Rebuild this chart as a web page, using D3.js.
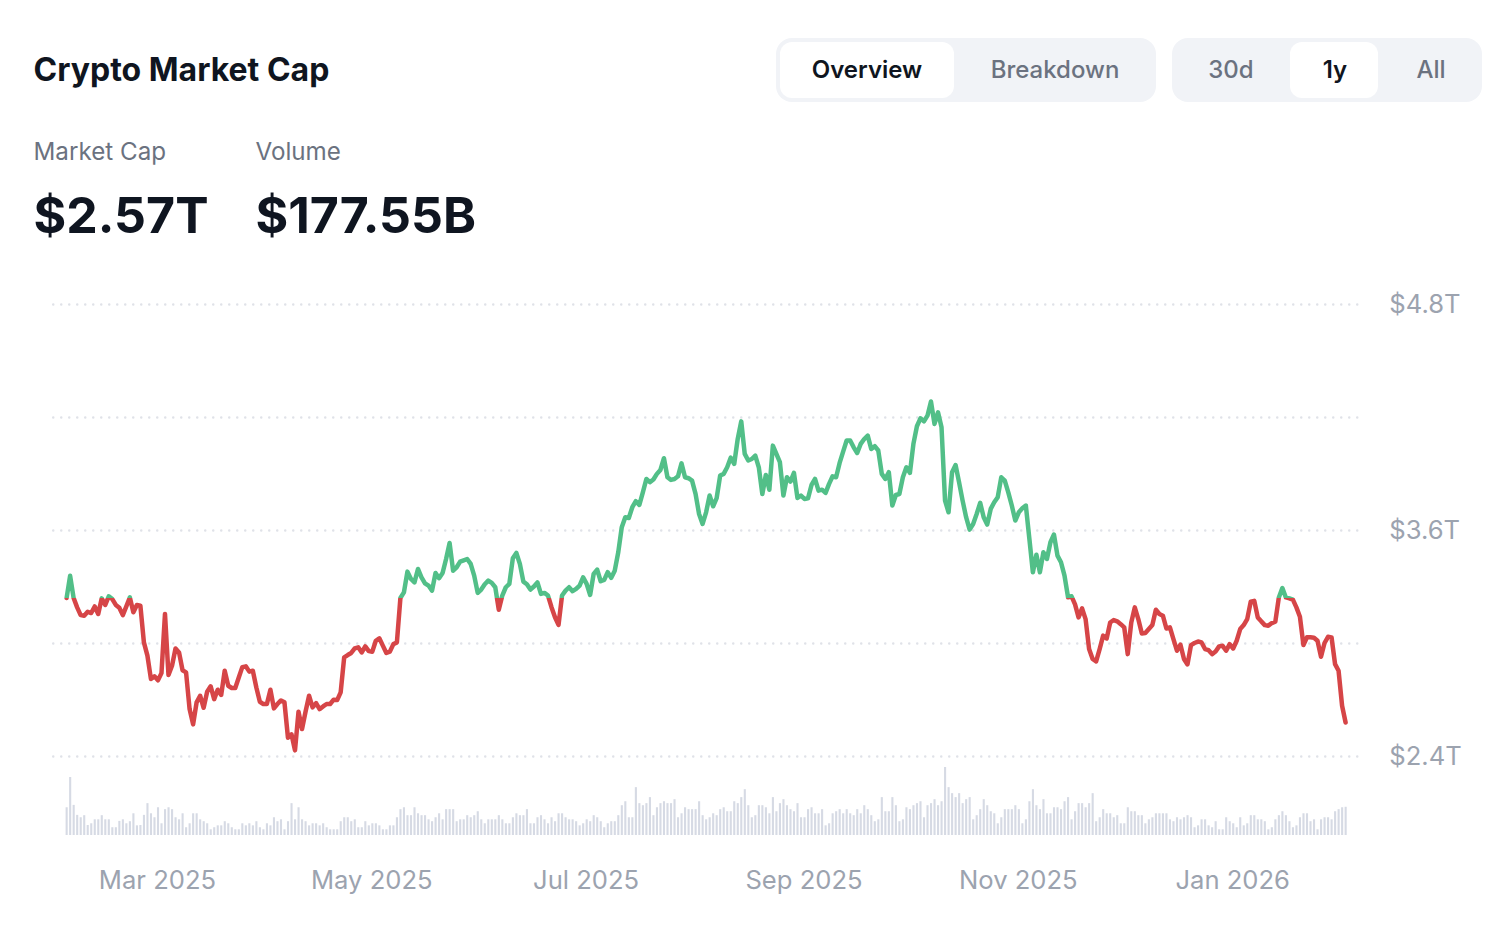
<!DOCTYPE html>
<html>
<head>
<meta charset="utf-8">
<title>Crypto Market Cap</title>
<script src="https://cdn.jsdelivr.net/npm/d3@7"></script>
<style>
  html, body { margin: 0; padding: 0; background: #fff; }
  svg { display: block; font-family: Inter, "Noto Sans", sans-serif; }
</style>
</head>
<body>
<svg id="chart" width="1510" height="930"></svg>
<script>
// daily market cap in $T, first day is 2025-02-03
var capValues = [
  3.239,3.357,3.239,3.189,3.148,3.145,3.166,3.159,3.194,3.154,3.237,3.202,3.248,3.233,3.202,3.187,3.148,3.194,3.242,3.163,
  3.202,3.198,3.003,2.933,2.809,2.823,2.802,2.840,3.154,2.830,2.879,2.971,2.950,2.855,2.844,2.649,2.568,2.685,2.720,2.656,
  2.741,2.770,2.702,2.752,2.724,2.853,2.773,2.761,2.761,2.817,2.872,2.876,2.848,2.853,2.764,2.688,2.676,2.676,2.752,2.653,
  2.676,2.695,2.685,2.497,2.515,2.430,2.635,2.543,2.635,2.720,2.658,2.681,2.649,2.663,2.676,2.676,2.699,2.697,2.738,2.924,
  2.936,2.947,2.971,2.977,2.950,2.982,2.957,2.954,3.012,3.025,2.986,2.947,2.954,2.994,3.003,3.239,3.269,3.379,3.340,3.322,
  3.393,3.349,3.317,3.305,3.278,3.372,3.344,3.372,3.446,3.531,3.384,3.402,3.432,3.439,3.446,3.420,3.358,3.266,3.284,3.312,
  3.331,3.319,3.296,3.177,3.252,3.296,3.314,3.450,3.478,3.420,3.326,3.312,3.284,3.300,3.322,3.261,3.266,3.252,3.190,3.137,
  3.096,3.252,3.278,3.296,3.275,3.287,3.305,3.349,3.314,3.255,3.367,3.390,3.328,3.335,3.376,3.346,3.384,3.482,3.615,3.668,
  3.664,3.721,3.753,3.733,3.800,3.871,3.854,3.868,3.898,3.919,3.981,3.880,3.866,3.871,3.885,3.954,3.880,3.875,3.862,3.792,
  3.685,3.632,3.694,3.783,3.726,3.769,3.889,3.898,3.933,3.984,3.951,4.084,4.177,4.004,3.969,3.977,3.995,3.933,3.791,3.892,
  3.814,4.048,4.004,3.960,3.783,3.880,3.857,3.903,3.770,3.783,3.765,3.768,3.839,3.871,3.809,3.814,3.797,3.845,3.885,3.880,
  3.956,4.016,4.075,4.075,4.039,4.009,4.057,4.083,4.101,4.030,4.045,4.022,3.898,3.871,3.907,3.730,3.786,3.791,3.880,3.933,
  3.903,4.057,4.151,4.193,4.177,4.207,4.282,4.163,4.225,4.145,3.756,3.694,3.907,3.945,3.853,3.756,3.668,3.602,3.632,3.685,
  3.744,3.668,3.629,3.712,3.747,3.774,3.880,3.862,3.800,3.730,3.650,3.694,3.715,3.730,3.553,3.376,3.469,3.376,3.482,3.446,
  3.535,3.576,3.464,3.429,3.358,3.243,3.248,3.205,3.136,3.184,3.127,2.968,2.915,2.902,2.968,3.039,3.024,3.109,3.122,3.115,
  3.100,3.083,2.941,3.109,3.189,3.127,3.051,3.053,3.074,3.095,3.177,3.154,3.145,3.077,3.083,3.021,2.959,2.991,2.915,2.886,
  2.989,3.000,3.008,3.003,2.968,2.962,2.941,2.955,2.982,2.985,2.959,2.994,2.971,3.012,3.074,3.095,3.127,3.219,3.224,3.136,
  3.115,3.095,3.092,3.106,3.113,3.242,3.292,3.242,3.237,3.230,3.189,3.139,2.989,3.030,3.030,3.028,3.012,2.927,3.000,3.033,
  3.030,2.888,2.853,2.667,2.578
];

// daily volume in $B, same days
var volumeValues = [
  175,366,190,127,112,125,63,74,99,99,125,99,99,49,49,89,99,74,87,137,61,63,127,201,137,112,175,74,163,175,
  163,112,99,137,49,74,137,137,99,87,74,36,49,61,61,87,74,49,36,36,74,61,74,61,87,49,36,74,61,112,
  87,99,36,87,201,99,175,99,87,61,74,74,61,74,49,36,36,36,87,112,112,87,99,49,49,87,61,74,74,61,
  36,36,61,61,112,163,175,125,125,175,137,125,125,99,87,112,137,99,163,163,163,87,99,99,125,112,125,150,99,74,
  99,99,99,125,99,74,74,112,137,125,125,163,74,74,112,125,99,74,112,87,137,137,112,99,99,87,61,74,99,87,
  125,112,87,49,74,87,87,125,188,213,112,112,302,201,188,201,239,125,175,201,213,201,201,226,112,137,175,163,163,163,
  213,125,99,112,137,125,163,175,150,150,213,201,239,289,188,112,125,188,188,175,137,239,150,201,226,188,163,150,201,112,
  112,163,175,137,137,163,61,74,137,150,163,137,163,137,125,163,137,188,163,125,87,99,239,150,150,239,188,87,99,175,
  163,188,201,213,112,188,201,226,188,213,429,302,264,239,264,201,226,239,99,125,163,226,188,150,137,74,112,163,163,163,
  188,163,74,99,213,289,188,163,226,137,137,175,175,163,213,239,99,150,201,201,175,201,264,87,112,163,137,137,112,125,
  74,74,175,150,150,125,125,74,99,112,137,137,137,137,99,87,112,99,112,125,112,49,61,99,99,61,49,87,36,36,
  112,87,74,49,112,61,74,125,125,99,99,87,36,49,99,125,150,125,87,49,61,112,137,137,87,99,36,99,112,112,
  99,150,163,175,178
];

var capTicks = [2.4, 3.0, 3.6, 4.2, 4.8];
var labelledTicks = [2.4, 3.6, 4.8];
var monthTicks = ["2025-03-01", "2025-05-01", "2025-07-01", "2025-09-01", "2025-11-01", "2026-01-01"];
var viewTabs = ["Overview", "Breakdown"];
var rangeTabs = ["30d", "1y", "All"];
var statLabels = ["Market Cap", "Volume"];
var statValues = ["$2.57T", "$177.55B"];

var parseDay = d3.timeParse("%Y-%m-%d");
var firstDay = parseDay("2025-02-03");
var lastDay = d3.timeDay.offset(firstDay, capValues.length - 1);

var svg = d3.select("#chart");

var x = d3.scaleTime().domain([firstDay, lastDay]).range([66.6, 1345.6]);
var y = d3.scaleLinear().domain([2.4, 4.8]).range([756, 304]);
var yVol = d3.scaleLinear().domain([0, 429]).range([835, 767]);

function dayOf(i) { return d3.timeDay.offset(firstDay, i); }

// header
svg.append("text").attr("x", 33.5).attr("y", 81)
  .attr("font-size", 32).attr("font-weight", 700).attr("fill", "#0f1520")
  .text("Crypto Market Cap");

function tabGroup(labels, active, left, right, centers, activeBox) {
  var g = svg.append("g");
  g.append("rect").attr("x", left).attr("y", 38).attr("width", right - left).attr("height", 64)
    .attr("rx", 16).attr("fill", "#f1f3f7");
  g.append("rect").attr("x", activeBox[0]).attr("y", 42).attr("width", activeBox[1] - activeBox[0]).attr("height", 56)
    .attr("rx", 12).attr("fill", "#fff");
  g.selectAll("text").data(labels).enter().append("text")
    .attr("x", function(d, i) { return centers[i]; })
    .attr("y", 78)
    .attr("text-anchor", "middle")
    .attr("font-size", 24)
    .attr("font-weight", function(d) { return d == active ? 600 : 500; })
    .attr("fill", function(d) { return d == active ? "#0f1520" : "#6b7280"; })
    .text(function(d) { return d; });
}
tabGroup(viewTabs, "Overview", 776, 1156, [867, 1055], [780, 954]);
tabGroup(rangeTabs, "1y", 1172, 1482, [1231, 1335, 1431], [1290, 1378]);

// stats
var statX = [33.5, 255.5];
svg.selectAll(".stat-label").data(statLabels).enter().append("text")
  .attr("class", "stat-label")
  .attr("x", function(d, i) { return statX[i]; }).attr("y", 160)
  .attr("font-size", 24.2).attr("font-weight", 400).attr("fill", "#6b7280")
  .text(function(d) { return d; });
svg.selectAll(".stat-value").data(statValues).enter().append("text")
  .attr("class", "stat-value")
  .attr("x", function(d, i) { return statX[i]; }).attr("y", 233)
  .attr("font-size", 50).attr("font-weight", 700).attr("fill", "#0f1520")
  .text(function(d) { return d; });

// y axis with dotted grid
var yAxis = d3.axisRight(y)
  .tickValues(capTicks)
  .tickSize(-1304.6)
  .tickPadding(32)
  .tickFormat(function(d) { return labelledTicks.indexOf(d) >= 0 ? "$" + d3.format(".1f")(d) + "T" : ""; });

var yG = svg.append("g").attr("transform", "translate(1357.3,0)").call(yAxis);
yG.select(".domain").remove();
yG.selectAll("line")
  .attr("stroke", "#e0e2e8").attr("stroke-width", 2.4)
  .attr("stroke-linecap", "round").attr("stroke-dasharray", "0.1 7.9");
yG.selectAll("text")
  .attr("font-family", "Inter, sans-serif").attr("font-size", 25.6).attr("fill", "#9ca3af")
  .attr("dy", "0.32em");

// volume bars
svg.append("g").selectAll("rect").data(volumeValues).enter().append("rect")
  .attr("x", function(d, i) { return x(dayOf(i)) - 1; })
  .attr("width", 2.1)
  .attr("y", function(d) { return yVol(d); })
  .attr("height", function(d) { return 835 - yVol(d); })
  .attr("fill", "#d6dae4");

// market cap line, green above the first value and red below it
var baseY = y(capValues[0]);
var defs = svg.append("defs");
defs.append("clipPath").attr("id", "above").append("rect")
  .attr("x", 0).attr("y", 0).attr("width", 1510).attr("height", baseY);
defs.append("clipPath").attr("id", "below").append("rect")
  .attr("x", 0).attr("y", baseY).attr("width", 1510).attr("height", 930 - baseY);

var line = d3.line()
  .x(function(d, i) { return x(dayOf(i)); })
  .y(function(d) { return y(d); });

function capPath(clip, color) {
  svg.append("path").datum(capValues)
    .attr("d", line)
    .attr("clip-path", "url(#" + clip + ")")
    .attr("fill", "none")
    .attr("stroke", color)
    .attr("stroke-width", 4.5)
    .attr("stroke-linejoin", "round")
    .attr("stroke-linecap", "round");
}
capPath("above", "#52bf88");
capPath("below", "#d64547");

// x axis
var xAxis = d3.axisBottom(x)
  .tickValues(monthTicks.map(parseDay))
  .tickSize(0)
  .tickPadding(0)
  .tickFormat(d3.timeFormat("%b %Y"));

var xG = svg.append("g").attr("transform", "translate(-1,871)").call(xAxis);
xG.select(".domain").remove();
xG.selectAll("text")
  .attr("font-family", "Inter, sans-serif").attr("font-size", 25.6).attr("fill", "#9ca3af");
</script>
</body>
</html>
